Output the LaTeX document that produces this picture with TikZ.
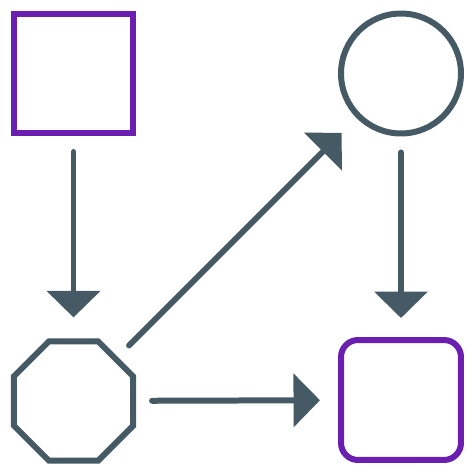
\documentclass[tikz,border=0pt]{standalone}
\usetikzlibrary{
    arrows.meta,
    shapes.geometric,
    positioning
}
\definecolor{slate}{HTML}{455A64}
\definecolor{iconpurple}{HTML}{6A1FB0}

\begin{document}
\begin{tikzpicture}[x=0.02cm, y=-0.02cm,
    shapebox/.style={draw=slate, line width=0.12cm, inner sep=0pt, minimum size=2.4cm},
    flow/.style={draw=slate, line width=0.12cm, line cap=round,
        -{Triangle[length=0.53cm, width=1.05cm]}, shorten <=0.32cm, shorten >=0.42cm}]
                    \useasboundingbox (0, 0) rectangle (474, 474);

                    \node[shapebox, draw=iconpurple, rectangle, minimum size=2.38cm] (start) at (73.5, 73.5) {};
                    \node[shapebox, circle] (check) at (401, 73.5) {};
                    \node[shapebox, regular polygon, regular polygon sides=8, minimum size=2.58cm] (stop) at (73.5, 401) {};
                    \node[shapebox, draw=iconpurple, rectangle, rounded corners=0.34cm] (done) at (401, 400) {};

                    \draw
                    (start) edge[flow] (stop)
                    (check) edge[flow, shorten >=0.38cm] (done)
                    (stop) edge[flow, shorten >=0.36cm] (done)
                    (stop) edge[flow] (check);
                \end{tikzpicture}
\end{document}
